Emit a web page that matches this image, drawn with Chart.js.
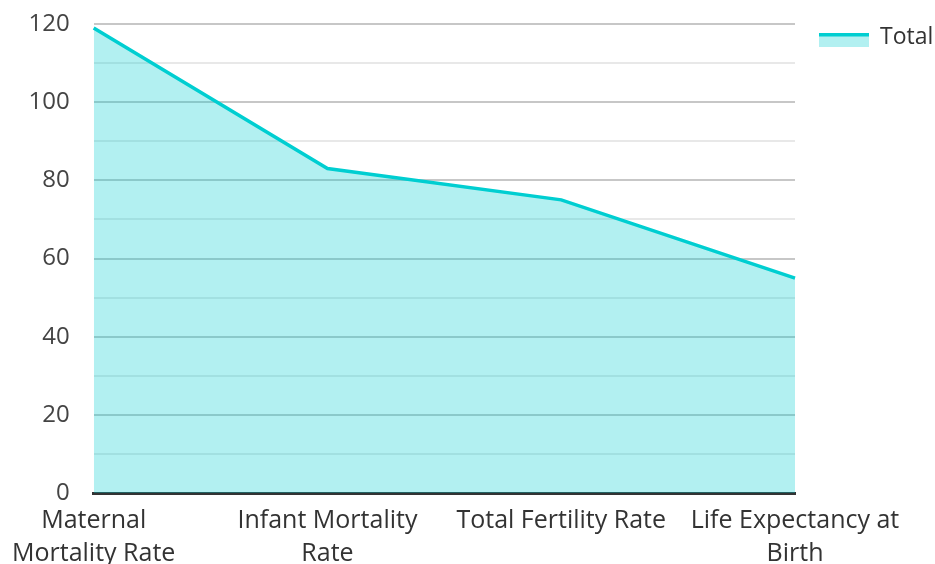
<!DOCTYPE html>
<html>
<head>
<meta charset="utf-8">
<script src="https://cdn.jsdelivr.net/npm/chart.js@4/dist/chart.umd.min.js"></script>
<style>
  html, body { margin: 0; padding: 0; background: #fff; }
  #wrap { width: 935px; height: 564px; }
</style>
</head>
<body>
<div id="wrap"><canvas id="chart"></canvas></div>
<script>
var categories = [
  ['Maternal', 'Mortality Rate'],
  ['Infant Mortality', 'Rate'],
  'Total Fertility Rate',
  ['Life Expectancy at', 'Birth']
];
var totals = [119, 83, 75, 55];
var yTicks = [0, 20, 40, 60, 80, 100, 120];
var seriesName = 'Total';

var lineColor = '#00ced1';
var fillColor = 'rgba(0, 206, 209, 0.3)';
var fontFamily = '"Open Sans", "Noto Sans", sans-serif';

// legend drawn by hand: light box with a thick line on top, then the name
var sideLegend = {
  id: 'sideLegend',
  afterDraw: function(chart) {
    var ctx = chart.ctx;
    var x = chart.chartArea.right + 24;
    var y = 33;
    ctx.save();
    ctx.fillStyle = fillColor;
    ctx.fillRect(x, y, 50, 14);
    ctx.fillStyle = lineColor;
    ctx.fillRect(x, y, 50, 3.5);
    ctx.fillStyle = '#333';
    ctx.font = '23px ' + fontFamily;
    ctx.textBaseline = 'middle';
    ctx.fillText(seriesName, x + 61, y + 4);
    ctx.restore();
  }
};

Chart.defaults.font.family = fontFamily;
Chart.defaults.font.size = 24;
Chart.defaults.color = '#333';

var ctx = document.getElementById('chart').getContext('2d');
var chart = new Chart(ctx, {
  type: 'line',
  data: {
    labels: categories,
    datasets: [{
      label: seriesName,
      data: totals,
      borderColor: lineColor,
      backgroundColor: fillColor,
      borderWidth: 3.5,
      fill: 'origin',
      pointRadius: 0,
      tension: 0
    }]
  },
  options: {
    responsive: true,
    maintainAspectRatio: false,
    animation: false,
    layout: { padding: { top: 24, right: 140, left: 0, bottom: -18 } },
    plugins: {
      legend: { display: false },
      tooltip: { enabled: false }
    },
    scales: {
      x: {
        offset: false,
        grid: { display: false, drawTicks: false },
        border: { display: true, color: '#333', width: 3 },
        ticks: {
          color: '#333', maxRotation: 0, autoSkip: false, padding: 12,
          font: { size: 25, lineHeight: 1.3 }
        }
      },
      y: {
        min: 0,
        max: 120,
        afterBuildTicks: function(axis) {
          var t = [];
          for (var v = 0; v <= 120; v += 10) t.push({ value: v });
          axis.ticks = t;
        },
        grid: {
          drawTicks: true,
          tickLength: 20,
          tickColor: 'rgba(0,0,0,0)',
          color: function(c) {
            return (c.tick && yTicks.indexOf(c.tick.value) >= 0) ? 'rgba(0,0,0,0.22)' : 'rgba(0,0,0,0.09)';
          },
          lineWidth: 2
        },
        border: { display: false },
        ticks: {
          color: '#444',
          padding: 4,
          font: { size: 24 },
          callback: function(v) {
            return yTicks.indexOf(v) >= 0 ? String(v) : '';
          }
        }
      }
    }
  },
  plugins: [sideLegend]
});
</script>
</body>
</html>
